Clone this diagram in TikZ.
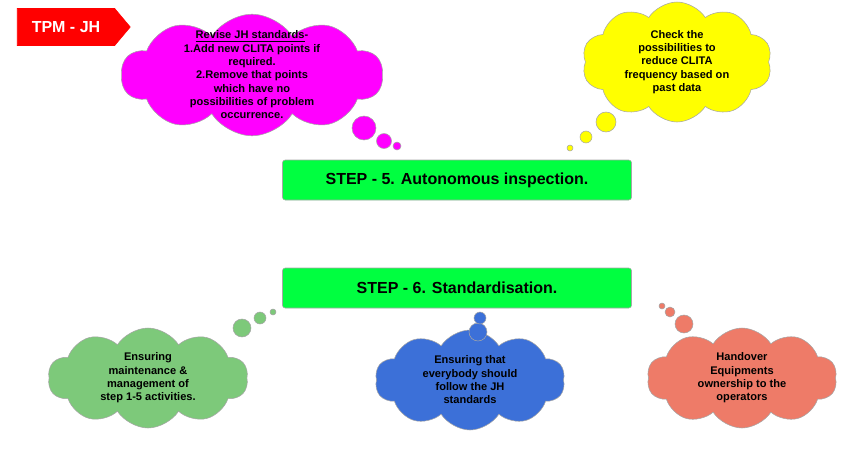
\documentclass[tikz,border=0pt]{standalone}
\usepackage{fontspec}
\setmainfont{Liberation Sans}
\usetikzlibrary{shapes.symbols,shapes.arrows}
\definecolor{magcl}{HTML}{FF00FF}
\definecolor{yelcl}{HTML}{FFFF00}
\definecolor{grncl}{HTML}{00FF40}
\definecolor{lgrcl}{HTML}{7DC97A}
\definecolor{blucl}{HTML}{3C70D8}
\definecolor{salcl}{HTML}{EE7B68}
\newcommand{\cl}{\node[cloud, draw=gray!70, cloud puffs=10, cloud puff arc=115, aspect=2, align=center, font=\bfseries\fontsize{8.3}{10}\selectfont, inner sep=0pt]}
\newcommand{\bb}{\node[circle, draw=gray!70, inner sep=0pt]}
\tikzset{stepbox/.style={draw=gray!70, fill=grncl, minimum width=349*0.75pt, minimum height=40*0.75pt, rounded corners=2pt, font=\bfseries\fontsize{12}{14}\selectfont}}

\begin{document}
\begin{tikzpicture}[x=0.75pt,y=-0.75pt]
            \useasboundingbox (0,0) rectangle (868,451);
            \node[single arrow, fill=red, draw=red, minimum height=113*0.75pt, minimum width=37*0.75pt, single arrow head extend=0pt, single arrow tip angle=100, inner sep=1pt, text=white, font=\bfseries\fontsize{12}{14}\selectfont] (tpm) at (66,27) {TPM - JH\hspace{14pt}};

            \cl[fill=magcl, inner ysep=-13pt, inner xsep=18pt, aspect=3.2] (rev) at (252,75) {\underline{Revise JH standards}-\\1.Add new CLITA points if\\required.\\2.Remove that points\\which have no\\possibilities of problem\\occurrence.};
            \bb[fill=magcl, minimum size=24*0.75pt] (rb1) at (364,128) {};
            \bb[fill=magcl, minimum size=15*0.75pt] (rb2) at (384,141) {};
            \bb[fill=magcl, minimum size=8*0.75pt] (rb3) at (397,146) {};

            \cl[fill=yelcl, minimum width=190*0.75pt, minimum height=120*0.75pt] (chk) at (677,62) {Check the\\possibilities to\\reduce CLITA\\frequency based on\\past data};
            \bb[fill=yelcl, minimum size=20*0.75pt] (yb1) at (606,122) {};
            \bb[fill=yelcl, minimum size=12*0.75pt] (yb2) at (586,137) {};
            \bb[fill=yelcl, minimum size=6*0.75pt] (yb3) at (570,148) {};

            \node[stepbox] (s5) at (457,180) {STEP - 5. Autonomous inspection.};
            \node[stepbox] (s6) at (457,288) {STEP - 6. Standardisation.};

            \cl[fill=lgrcl, minimum width=200*0.75pt, minimum height=100*0.75pt] (ens) at (148,378) {Ensuring\\maintenance \&\\management of\\step 1-5 activities.};
            \bb[fill=lgrcl, minimum size=18*0.75pt] (gb1) at (242,328) {};
            \bb[fill=lgrcl, minimum size=12*0.75pt] (gb2) at (260,318) {};
            \bb[fill=lgrcl, minimum size=6*0.75pt] (gb3) at (273,312) {};

            \cl[fill=blucl, minimum width=190*0.75pt, minimum height=100*0.75pt] (fol) at (470,380) {Ensuring that\\everybody should\\follow the JH\\standards};
            \bb[fill=blucl, minimum size=18*0.75pt] (bb1) at (478,332) {};
            \bb[fill=blucl, minimum size=12*0.75pt] (bb2) at (480,318) {};

            \cl[fill=salcl, minimum width=190*0.75pt, minimum height=100*0.75pt] (hnd) at (742,378) {Handover\\Equipments\\ownership to the\\operators};
            \bb[fill=salcl, minimum size=18*0.75pt] (sb1) at (684,324) {};
            \bb[fill=salcl, minimum size=10*0.75pt] (sb2) at (670,312) {};
            \bb[fill=salcl, minimum size=6*0.75pt] (sb3) at (662,306) {};
        \end{tikzpicture}
\end{document}
